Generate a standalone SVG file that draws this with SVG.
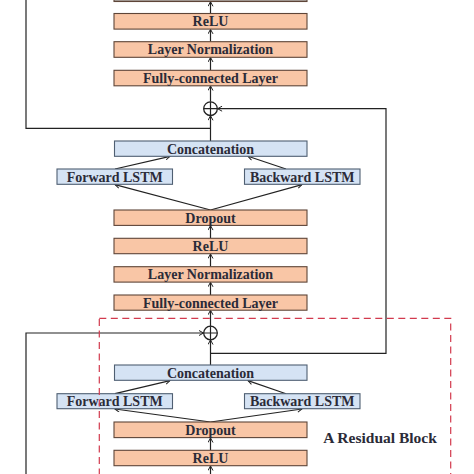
<svg xmlns="http://www.w3.org/2000/svg" width="474" height="474" viewBox="0 0 474 474">
<defs>
<style>
.o{fill:#f9c6a6;stroke:#5e4538;stroke-width:1.1}
.b{fill:#d5e3f4;stroke:#4f5f72;stroke-width:1.1}
.g{fill:#a39a94;stroke:#5e4538;stroke-width:1.1}
.t{font-family:"Liberation Serif",serif;font-weight:bold;font-size:14px;fill:#2b2b38;text-anchor:middle}
.c{fill:none;stroke:#222;stroke-width:1.2}
.a{marker-end:url(#ah)}
.ring{fill:#fff;stroke:#222;stroke-width:1.3}
</style>
<marker id="ah" markerWidth="6" markerHeight="6" refX="5" refY="3" orient="auto" markerUnits="userSpaceOnUse">
<path d="M0.5,0.5 L5,3 L0.5,5.5" fill="none" stroke="#222" stroke-width="1"/>
</marker>
</defs>
<rect width="474" height="474" fill="#fff"/>

<g id="connectors">
<path class="c a" d="M210.5,13.5 V1.8"/>
<path class="c a" d="M210.5,41.7 V29.4"/>
<path class="c a" d="M210.5,70.3 V57.5"/>
<path class="c a" d="M210.5,101.7 V86"/>
<path class="c a" d="M210.5,141 V115.8"/>
<path class="c" d="M26,0 V128.3 H210.5"/>
<path class="c a" d="M210.5,353.3 H386 V108.7 H217.6"/>
<path class="c a" d="M115,169 L170,156.3"/>
<path class="c a" d="M286,169 L248,156.3"/>
<path class="c a" d="M210.5,210 L115,184.6"/>
<path class="c a" d="M210.5,210 L302,184.6"/>
<path class="c a" d="M210.5,238.3 V225.6"/>
<path class="c a" d="M210.5,266.7 V254"/>
<path class="c a" d="M210.5,295 V282.3"/>
<path class="c a" d="M210.5,326 V310.3"/>
<path class="c a" d="M26,474 V333 H203.5"/>
<path class="c a" d="M210.5,365 V340"/>
<path class="c a" d="M115,393.7 L170,380.6"/>
<path class="c a" d="M286,393.7 L248,380.6"/>
<path class="c a" d="M210.5,422 L115,409"/>
<path class="c a" d="M210.5,422 L302,409"/>
<path class="c a" d="M210.5,450.3 V438"/>
<path class="c a" d="M210.5,474 V466"/>
</g>

<g id="top-box"><rect class="g" x="114" y="-14" width="193" height="15.5"/></g>
<g id="relu1"><rect class="o" x="114" y="13.5" width="193" height="15.6"/><text class="t" x="210.5" y="26.2">ReLU</text></g>
<g id="ln1"><rect class="o" x="114" y="41.7" width="193" height="15.6"/><text class="t" x="210.5" y="54.4">Layer Normalization</text></g>
<g id="fc1"><rect class="o" x="114" y="70.3" width="193" height="15.5"/><text class="t" x="210.5" y="83">Fully-connected Layer</text></g>
<g id="add1"><circle class="ring" cx="210.5" cy="108.7" r="6.8"/><path d="M203.7,108.7 H217.3 M210.5,101.9 V115.5" stroke="#222" stroke-width="1.2"/></g>
<g id="concat1"><rect class="b" x="114.5" y="141" width="192.5" height="15.3"/><text class="t" x="210.5" y="153.6">Concatenation</text></g>
<g id="flstm1"><rect class="b" x="57" y="169" width="115.5" height="15.3"/><text class="t" x="114.7" y="181.6">Forward LSTM</text></g>
<g id="blstm1"><rect class="b" x="244.5" y="169" width="115.5" height="15.3"/><text class="t" x="302.2" y="181.6">Backward LSTM</text></g>
<g id="dropout2"><rect class="o" x="114" y="210" width="193" height="15.4"/><text class="t" x="210.5" y="222.6">Dropout</text></g>
<g id="relu2"><rect class="o" x="114" y="238.3" width="193" height="15.4"/><text class="t" x="210.5" y="250.9">ReLU</text></g>
<g id="ln2"><rect class="o" x="114" y="266.7" width="193" height="15.4"/><text class="t" x="210.5" y="279.3">Layer Normalization</text></g>
<g id="fc2"><rect class="o" x="114" y="295" width="193" height="15.2"/><text class="t" x="210.5" y="307.5">Fully-connected Layer</text></g>
<g id="add2"><circle class="ring" cx="210.5" cy="333" r="6.8"/><path d="M203.7,333 H217.3 M210.5,326.2 V339.8" stroke="#222" stroke-width="1.2"/></g>
<g id="concat2"><rect class="b" x="114.5" y="365" width="192.5" height="15.3"/><text class="t" x="210.5" y="377.6">Concatenation</text></g>
<g id="flstm2"><rect class="b" x="57" y="393.7" width="115.5" height="15"/><text class="t" x="114.7" y="406.2">Forward LSTM</text></g>
<g id="blstm2"><rect class="b" x="244.5" y="393.7" width="115.5" height="15"/><text class="t" x="302.2" y="406.2">Backward LSTM</text></g>
<g id="dropout3"><rect class="o" x="114" y="422" width="193" height="15.6"/><text class="t" x="210.5" y="434.6">Dropout</text></g>
<g id="relu3"><rect class="o" x="114" y="450.3" width="193" height="15.4"/><text class="t" x="210.5" y="462.9">ReLU</text></g>

<g id="residual-block">
<rect x="99.3" y="318.3" width="351.4" height="170" fill="none" stroke="#d23a4e" stroke-width="1.2" stroke-dasharray="7,4.5"/>
<text x="380" y="443.3" font-family="Liberation Serif, serif" font-weight="bold" font-size="15.5" fill="#2b2b38" text-anchor="middle">A Residual Block</text>
</g>
</svg>
